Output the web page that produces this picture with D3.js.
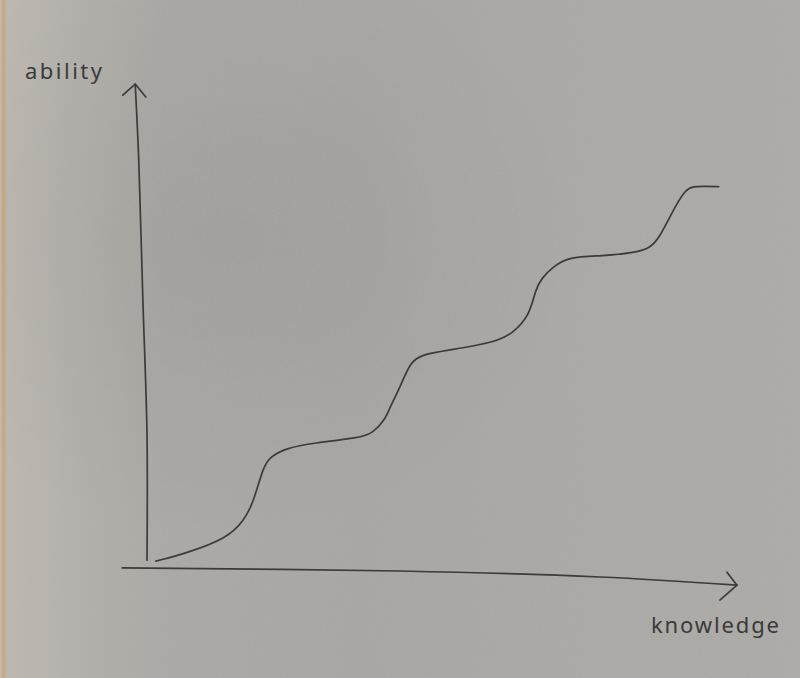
<!DOCTYPE html>
<html>
<head>
<meta charset="utf-8">
<script src="https://cdn.jsdelivr.net/npm/d3@7"></script>
<style>
  html, body { margin: 0; padding: 0; background: #aaa9a6; }
  svg { display: block; }
  .label { font-family: "Noto Sans", sans-serif; font-size: 22px; fill: #3a3a3a; }
</style>
</head>
<body>
<div id="vis"></div>
<script>
// hand sketch: ability grows in steps as knowledge accumulates
// values are in arbitrary units (0..100)

var knowledge = [1.5, 6.8, 13.6, 16.4, 18.0, 19.7, 20.8, 23.7, 28.1, 36.1, 38.3, 40.3,
  41.2, 42.9, 44.6, 46.3, 51.4, 59.3, 62.0, 64.9, 65.8, 66.9, 68.8, 71.4, 77.3,
  82.4, 85.3, 86.9, 89.2, 91.2, 92.5, 94.9, 96.9];
var ability = [0.8, 2.5, 5.6, 9.2, 12.9, 20.4, 22.5, 24.4, 25.4, 26.5, 27.5, 30.2,
  32.9, 37.1, 42.1, 43.8, 44.8, 46.5, 48.3, 52.1, 57.3, 59.8, 62.1, 64.2, 64.4,
  65.0, 66.0, 68.3, 74.0, 78.1, 78.9, 78.9, 78.8];

// the axes are drawn by hand too, so they wobble a little
var yAxisKnowledge = [0, 0, -0.7, -1.4, -2.0];
var yAxisAbility = [1.0, 27.3, 55.2, 84.4, 100.2];
var xAxisKnowledge = [-4.2, 42.9, 76.8, 100];
var xAxisAbility = [-0.6, -1.25, -2.5, -4.2];

// arrow heads: [left end, tip, right end]
var yArrowKnowledge = [-4.1, -2.0, -0.2];
var yArrowAbility = [97.9, 100.2, 97.5];
var xArrowKnowledge = [98.3, 100, 97.1];
var xArrowAbility = [-1.5, -4.2, -7.3];

var axisLabels = ['ability', 'knowledge'];

var width = 800;
var height = 678;

var x = d3.scaleLinear().domain([0, 100]).range([147, 737]);
var y = d3.scaleLinear().domain([0, 100]).range([565, 85]);

var svg = d3.select('#vis').append('svg')
  .attr('width', width)
  .attr('height', height);

var defs = svg.append('defs');

// paper: lighter and warmer near the binding, grey towards the middle
var grad = defs.append('linearGradient')
  .attr('id', 'paper')
  .attr('x1', 0).attr('x2', 1).attr('y1', 0).attr('y2', 0);
[[0, '#c4bfb6'], [0.004, '#c9a77c'], [0.009, '#bdb8b0'], [0.08, '#b5b2ac'],
 [0.2, '#aba9a5'], [0.45, '#a8a7a4'], [1, '#acaba8']].forEach(function(s) {
  grad.append('stop').attr('offset', s[0]).attr('stop-color', s[1]);
});

var shade = defs.append('radialGradient')
  .attr('id', 'shade')
  .attr('cx', 0.28).attr('cy', 0.35).attr('r', 0.45);
shade.append('stop').attr('offset', 0).attr('stop-color', '#000').attr('stop-opacity', 0.05);
shade.append('stop').attr('offset', 1).attr('stop-color', '#000').attr('stop-opacity', 0);

var grain = defs.append('filter').attr('id', 'grain')
  .attr('x', 0).attr('y', 0).attr('width', 1).attr('height', 1);
grain.append('feTurbulence')
  .attr('type', 'fractalNoise')
  .attr('baseFrequency', 0.6)
  .attr('numOctaves', 2)
  .attr('seed', 4);
grain.append('feColorMatrix')
  .attr('type', 'matrix')
  .attr('values', '0 0 0 0 0.5  0 0 0 0 0.5  0 0 0 0 0.5  0 0 0 0.9 -0.35');

svg.append('rect')
  .attr('width', width).attr('height', height)
  .attr('fill', 'url(#paper)');
svg.append('rect')
  .attr('width', width).attr('height', height)
  .attr('fill', 'url(#shade)');
svg.append('rect')
  .attr('width', width).attr('height', height)
  .attr('filter', 'url(#grain)')
  .attr('opacity', 0.35);

var g = svg.append('g');

var pencil = function(sel) {
  sel.attr('fill', 'none')
    .attr('stroke', '#3b3b3b')
    .attr('stroke-width', 1.7)
    .attr('stroke-linecap', 'round')
    .attr('stroke-linejoin', 'round');
};

var line = d3.line()
  .x(function(d) { return x(d[0]); })
  .y(function(d) { return y(d[1]); })
  .curve(d3.curveCatmullRom.alpha(0.5));

// the pencil curve is smoother than its control points
var smooth = d3.line()
  .x(function(d) { return x(d[0]); })
  .y(function(d) { return y(d[1]); })
  .curve(d3.curveBasis);

var straight = d3.line()
  .x(function(d) { return x(d[0]); })
  .y(function(d) { return y(d[1]); });

// axes
g.append('path')
  .attr('class', 'y axis')
  .attr('d', line(d3.zip(yAxisKnowledge, yAxisAbility)))
  .call(pencil);
g.append('path')
  .attr('class', 'x axis')
  .attr('d', line(d3.zip(xAxisKnowledge, xAxisAbility)))
  .call(pencil);

g.append('path')
  .attr('d', straight(d3.zip(yArrowKnowledge, yArrowAbility)))
  .call(pencil);
g.append('path')
  .attr('d', straight(d3.zip(xArrowKnowledge, xArrowAbility)))
  .call(pencil);

// the staircase curve
g.append('path')
  .datum(d3.zip(knowledge, ability))
  .attr('class', 'curve')
  .attr('d', smooth)
  .call(pencil);

// handwritten labels
g.append('text')
  .attr('class', 'label')
  .attr('x', 25)
  .attr('y', 79)
  .attr('textLength', 77)
  .attr('lengthAdjust', 'spacing')
  .text(axisLabels[0]);

g.append('text')
  .attr('class', 'label')
  .attr('x', 651)
  .attr('y', 633)
  .attr('textLength', 128)
  .attr('lengthAdjust', 'spacing')
  .text(axisLabels[1]);
</script>
</body>
</html>
